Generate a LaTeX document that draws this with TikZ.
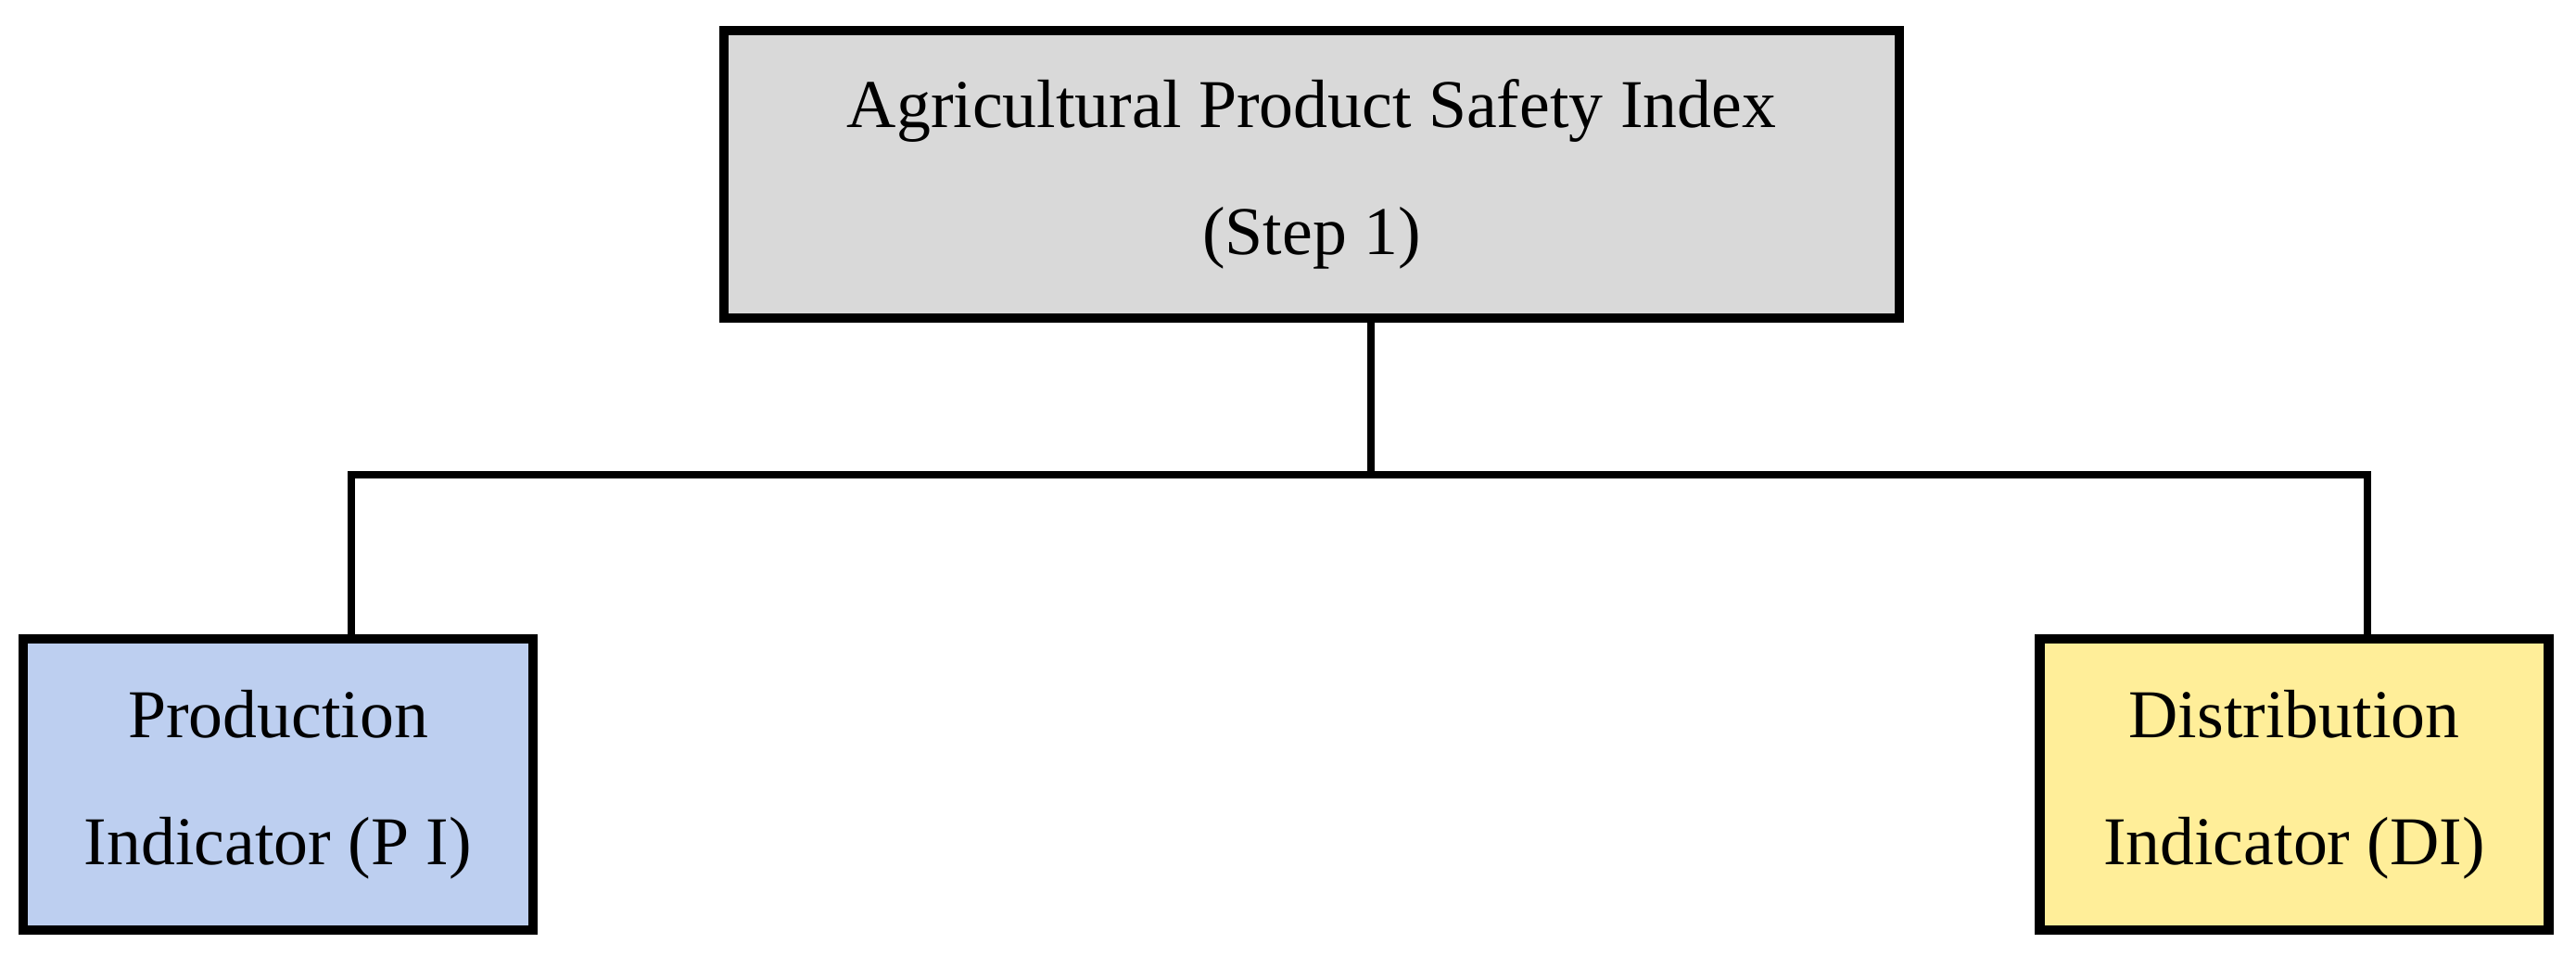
\documentclass[tikz,border=0pt]{standalone}
\usepackage{fontspec}
\setmainfont{Liberation Serif}
\usepackage{tikz}
\usetikzlibrary{calc,
  positioning,
  shapes
}
\definecolor{indexgray}{RGB}{217,217,217}
\definecolor{prodblue}{RGB}{189,207,240}
\definecolor{distyellow}{RGB}{255,238,153}
\tikzset{
  indexbox/.style={draw=black,line width=2.9pt,align=center,inner sep=0pt,
    font=\fontsize{21pt}{39pt}\selectfont},
  link/.style={draw=black,line width=2.2pt}
}

\begin{document}
\begin{tikzpicture}
  \useasboundingbox (0, 0) rectangle (27.79, -10.44);

  \node[indexbox,fill=indexgray,minimum width=12.68cm,minimum height=3.10cm]
  (apsi) at (14.15, -1.88) {Agricultural Product Safety Index\\ (Step 1)};

  \node[indexbox,fill=prodblue,minimum width=5.50cm,minimum height=3.14cm]
  (pi) at (3.00, -8.46) {Production\\ Indicator (P I)};

  \node[indexbox,fill=distyellow,minimum width=5.49cm,minimum height=3.14cm]
  (di) at (24.75, -8.46) {Distribution\\ Indicator (DI)};

  \coordinate (split) at (14.79, -5.12);
  \draw[link] (split |- apsi.south) -- (split);
  \draw[link] ([xshift=7.9mm]pi.north) |- (split) -| ([xshift=7.9mm]di.north);
\end{tikzpicture}
\end{document}
